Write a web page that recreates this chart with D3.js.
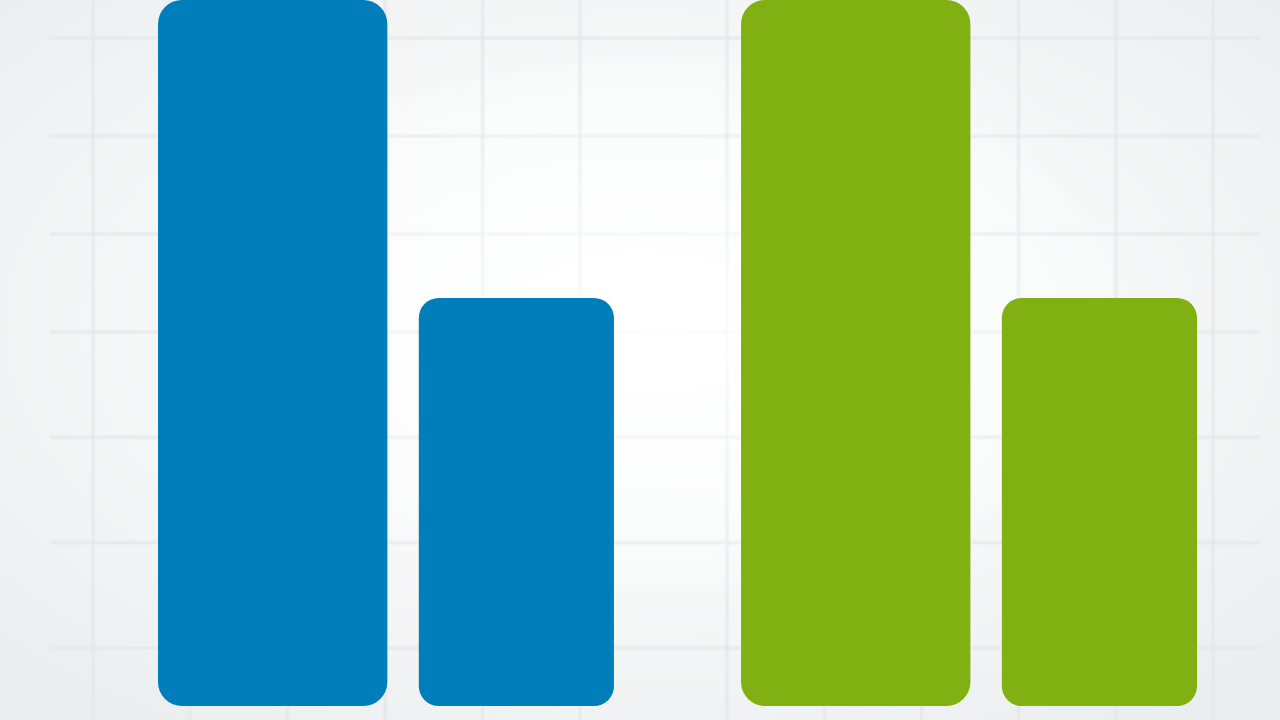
<!DOCTYPE html>
<html>
<head>
<meta charset="utf-8">
<script src="https://cdn.jsdelivr.net/npm/d3@7"></script>
<style>
  html, body { margin: 0; padding: 0; overflow: hidden; background: #eef0f1; }
  .grid line { stroke: #e3e5e7; stroke-width: 2.5; }
</style>
</head>
<body>
<div id="chart"></div>
<script>
// Data
var groups = ["Blue", "Green"];
var barKeys = ["first", "second"];
var blueValues = [100, 57.8];
var greenValues = [100, 57.8];
var groupColors = ["#007ebc", "#80b012"];

var width = 1280,
    height = 720,
    baseline = 706;

var svg = d3.select("#chart")
  .append("svg")
    .attr("width", width)
    .attr("height", height);

// Background: pale grey edges, white middle
var defs = svg.append("defs");
var bg = defs.append("radialGradient")
    .attr("id", "bg")
    .attr("cx", "50%").attr("cy", "45%").attr("r", "70%");
bg.append("stop").attr("offset", "0%").attr("stop-color", "#ffffff");
bg.append("stop").attr("offset", "40%").attr("stop-color", "#fafbfb");
bg.append("stop").attr("offset", "100%").attr("stop-color", "#eaedee");

var fade = defs.append("radialGradient")
    .attr("id", "fade")
    .attr("cx", "52%").attr("cy", "45%").attr("r", "40%");
fade.append("stop").attr("offset", "0%").attr("stop-color", "#ffffff").attr("stop-opacity", 0.9);
fade.append("stop").attr("offset", "100%").attr("stop-color", "#ffffff").attr("stop-opacity", 0);

var blur = defs.append("filter").attr("id", "soft");
blur.append("feGaussianBlur").attr("stdDeviation", 0.8);

svg.append("rect")
    .attr("width", width)
    .attr("height", height)
    .attr("fill", "url(#bg)");

// Grid scales (column / row index -> pixels)
var gx = d3.scaleLinear().domain([0, 5, 6, 11]).range([93, 580, 727, 1213]);
var gy = d3.scaleLinear().domain([0, 3, 6]).range([38, 332, 648]);

var grid = svg.append("g").attr("class", "grid").attr("filter", "url(#soft)");
grid.selectAll(".v")
  .data(d3.range(12))
  .enter().append("line")
    .attr("class", "v")
    .attr("x1", function(d) { return gx(d); })
    .attr("x2", function(d) { return gx(d); })
    .attr("y1", 0)
    .attr("y2", height);
grid.selectAll(".h")
  .data(d3.range(7))
  .enter().append("line")
    .attr("class", "h")
    .attr("x1", 50)
    .attr("x2", width - 20)
    .attr("y1", function(d) { return gy(d); })
    .attr("y2", function(d) { return gy(d); });

svg.append("rect")
    .attr("width", width)
    .attr("height", height)
    .attr("fill", "url(#fade)");

// Set the ranges
var x0 = d3.scaleBand()
    .domain(groups)
    .range([158, 1197])
    .paddingInner(0.218);

var y = d3.scaleLinear()
    .domain([0, 100])
    .range([baseline, 0]);

// inner layout: wide bar then narrower bar inside each group
var inner = d3.scaleLinear().domain([0, 1]).range([0, x0.bandwidth()]);
var span = { first: [0, 0.503], second: [0.572, 1] };

var rows = [];
groups.forEach(function(g, gi) {
  var vals = gi === 0 ? blueValues : greenValues;
  barKeys.forEach(function(k, ki) {
    rows.push({ group: g, key: k, value: vals[ki], color: groupColors[gi] });
  });
});

svg.append("g")
  .selectAll("rect")
  .data(rows)
  .enter().append("rect")
    .attr("x", function(d) { return x0(d.group) + inner(span[d.key][0]); })
    .attr("width", function(d) { return inner(span[d.key][1]) - inner(span[d.key][0]); })
    .attr("y", function(d) { return y(d.value); })
    .attr("height", function(d) { return baseline - y(d.value); })
    .attr("rx", function(d) { return d.key === "first" ? 24 : 20; })
    .attr("ry", function(d) { return d.key === "first" ? 24 : 20; })
    .attr("fill", function(d) { return d.color; });
</script>
</body>
</html>
